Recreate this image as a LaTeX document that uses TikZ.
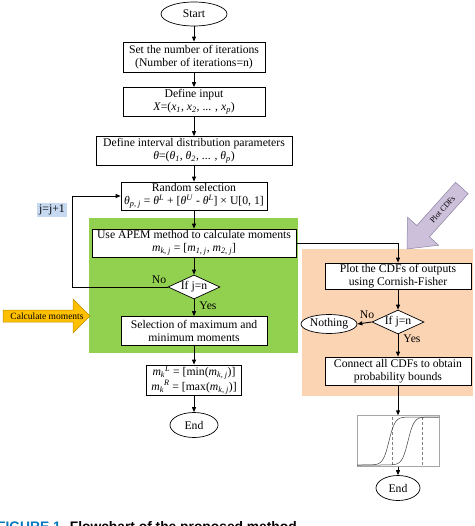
\documentclass[tikz,border=0pt]{standalone}
\usepackage{fontspec}
\setmainfont{Liberation Serif}
\newfontfamily\capfont{Liberation Sans}
\usetikzlibrary{shapes.geometric, arrows.meta}
\definecolor{grn}{RGB}{146,208,80}
\definecolor{peach}{RGB}{251,212,180}
\definecolor{jblue}{RGB}{198,217,241}
\definecolor{gold}{RGB}{255,192,0}
\definecolor{goldd}{RGB}{190,140,0}
\definecolor{lav}{RGB}{204,192,218}
\definecolor{lavd}{RGB}{140,130,165}
\definecolor{capblue}{RGB}{0,120,190}
\newcommand\sbi[1]{\textsubscript{\textit{#1}}}
\newcommand\spi[1]{\textsuperscript{\textit{#1}}}
\begin{document}
\begin{tikzpicture}[x=1pt,y=-1pt,
  txt/.style={font=\fontsize{11.7}{13}\selectfont},
  box/.style={draw, fill=white, line width=0.7pt, align=center, inner sep=1pt, txt},
  term/.style={draw, ellipse, fill=white, line width=0.7pt, inner sep=0pt, txt},
  dec/.style={draw, diamond, fill=white, line width=0.7pt, inner sep=0pt, aspect=2.2, txt},
  arr/.style={line width=0.9pt, -{Triangle[length=5pt,width=4pt]}},
  lbl/.style={inner sep=0pt, txt}]
\useasboundingbox (0,0) rectangle (474,526);
% regions
\fill[grn] (89,218) rectangle (298,353);
\fill[peach] (302,249) rectangle (473,396);
% main column
\node[term, minimum width=66pt, minimum height=24pt] (start) at (194,14) {Start};
\node[box, minimum width=142pt, minimum height=30pt] (b1) at (194,57) {Set the number of iterations\\(Number of iterations=n)};
\node[box, minimum width=142pt, minimum height=29pt] (b2) at (194,102) {Define input\\\textit{X}=(\textit{x}\sbi{1}, \textit{x}\sbi{2}, ... , \textit{x}\sbi{p})};
\node[box, minimum width=196pt, minimum height=29pt] (b3) at (194,151) {Define interval distribution parameters\\\textit{θ}=(\textit{θ}\sbi{1}, \textit{θ}\sbi{2}, ... , \textit{θ}\sbi{p})};
\node[box, minimum width=146pt, minimum height=28pt] (b4) at (194,196) {Random selection\\\textit{θ}\sbi{p, j} = \textit{θ}\spi{L} + [\textit{θ}\spi{U} - \textit{θ}\spi{L}] × U[0, 1]};
\node[box, minimum width=204pt, minimum height=28pt] (b5) at (194,243) {Use APEM method to calculate moments\\\textit{m}\sbi{k, j} = [\textit{m}\sbi{1, j}, \textit{m}\sbi{2, j}]};
\node[dec, minimum width=52pt, minimum height=24pt] (d1) at (194,287) {If j=n};
\node[box, minimum width=146pt, minimum height=29pt] (b6) at (194,331) {Selection of maximum and\\minimum moments};
\node[box, minimum width=95pt, minimum height=30pt] (b7) at (194,380) {\textit{m}\sbi{k}\spi{L} = [min(\textit{m}\sbi{k, j})]\\\textit{m}\sbi{k}\spi{R} = [max(\textit{m}\sbi{k, j})]};
\node[term, minimum width=48pt, minimum height=25pt] (end1) at (194,425) {End};
% right column
\node[box, minimum width=146pt, minimum height=26pt] (b8) at (398,276) {Plot the CDFs of outputs\\using Cornish-Fisher};
\node[dec, minimum width=52pt, minimum height=24pt] (d2) at (398,322) {If j=n};
\node[term, minimum width=56pt, minimum height=19pt] (noth) at (329,324) {Nothing};
\node[box, minimum width=146pt, minimum height=28pt] (b9) at (398,371) {Connect all CDFs to obtain\\probability bounds};
\node[draw=gray!70, line width=0.4pt, minimum width=82pt, minimum height=51pt, inner sep=0pt] (plt) at (398,441) {};
\node[term, minimum width=44pt, minimum height=25pt] (end2) at (398,488) {End};
% plot contents
\draw[gray, densely dashed, line width=0.4pt] (392,417) -- (392,465);
\draw[gray, densely dashed, line width=0.4pt] (422,417) -- (422,465);
\draw[black!75, line width=0.5pt] plot[domain=357:439, samples=60] (\x, {441-24*tanh((\x-389)/6)});
\draw[black!75, line width=0.5pt] plot[domain=357:439, samples=60] (\x, {441-24*tanh((\x-408)/6)});
% connectors
\draw[arr] (start) -- (b1);
\draw[arr] (b1) -- (b2);
\draw[arr] (b2) -- (b3);
\draw[arr] (b3) -- (b4);
\draw[arr] (b4) -- (b5);
\draw[arr] (b5) -- (d1);
\draw[arr] (d1) -- (b6);
\draw[arr] (b6) -- (b7);
\draw[arr] (b7) -- (end1);
\coordinate (lp) at (72,287);
\draw[arr] (d1.west) -- (lp) |- (b4.west);
\draw[arr] (b5.east) -| (b8.north);
\draw[arr] (b8) -- (d2);
\draw[arr] (d2) -- (b9);
\draw[arr] (d2.west) -- (noth.east);
\draw[arr] (b9) -- (plt);
\draw[arr] (plt) -- (end2);
% labels
\node[lbl] (no1) at (159,280) {No};
\node[lbl] (yes1) at (208,306) {Yes};
\node[lbl] (no2) at (367,315) {No};
\node[lbl] (yes2) at (412,339) {Yes};
\node[fill=jblue, inner sep=2pt, txt] (jj) at (52,210) {j=j+1};
% side arrows
\filldraw[fill=gold, draw=goldd, line width=0.5pt] (3,310) -- (73,310) -- (73,299) -- (90,316) -- (73,333) -- (73,322) -- (3,322) -- cycle;
\node[font=\fontsize{9.5}{11}\selectfont, inner sep=0pt] (calc) at (47,316) {Calculate moments};
\filldraw[fill=lav, draw=lavd, line width=0.5pt] (407,249) -- (438.7,245.2) -- (429.4,236.9) -- (468.2,193.7) -- (455.6,182.3) -- (416.8,225.5) -- (407.5,217.2) -- cycle;
\node[font=\fontsize{8}{9}\selectfont, inner sep=0pt, rotate=48] (plotcdf) at (442.5,209.6) {Plot CDFs};
% caption
\node[anchor=north west, inner sep=0pt, font=\capfont\bfseries\fontsize{13.8}{15}\selectfont] (cap) at (-3,521.5) {\textcolor{capblue}{FIGURE 1}\hspace{9pt}Flowchart of the proposed method};
\end{tikzpicture}
\end{document}
